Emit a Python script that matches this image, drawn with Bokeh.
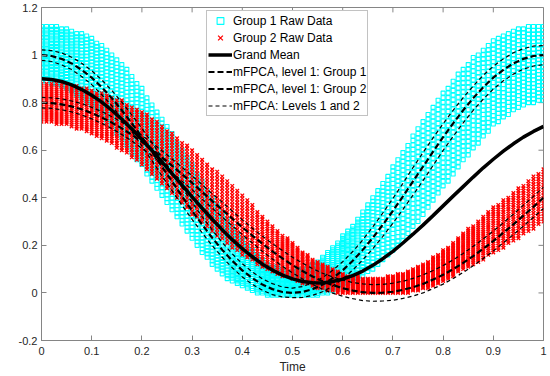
import math
from bokeh.plotting import figure
from bokeh.models import (Range1d, FixedTicker, Legend, LegendItem,
                          Label, PrintfTickFormatter)
from bokeh.embed import file_html
from bokeh.resources import INLINE

# ---------------- data ----------------
x_ticks = [0, 0.1, 0.2, 0.3, 0.4, 0.5, 0.6, 0.7, 0.8, 0.9, 1]
x_tick_labels = ["0", "0.1", "0.2", "0.3", "0.4", "0.5", "0.6", "0.7", "0.8", "0.9", "1"]
y_ticks = [-0.2, 0, 0.2, 0.4, 0.6, 0.8, 1, 1.2]
y_tick_labels = ["-0.2", "0", "0.2", "0.4", "0.6", "0.8", "1", "1.2"]

# sampling times of the raw curves (every 0.01)
t_raw = [round(0.01 * i, 2) for i in range(101)]
# relative positions of the stacked samples inside each column
sample_frac = [0.00, 0.05, 0.10, 0.15, 0.20, 0.25, 0.30, 0.35, 0.40, 0.45, 0.50,
               0.55, 0.60, 0.65, 0.70, 0.75, 0.80, 0.85, 0.90, 0.95, 1.00]

g1_low = [0.89, 0.89, 0.88, 0.88, 0.87, 0.86, 0.85, 0.83, 0.82, 0.80,
          0.79, 0.77, 0.75, 0.72, 0.70, 0.67, 0.65, 0.62, 0.59, 0.56,
          0.54, 0.50, 0.47, 0.44, 0.41, 0.38, 0.35, 0.32, 0.29, 0.26,
          0.23, 0.20, 0.17, 0.15, 0.12, 0.10, 0.08, 0.06, 0.05, 0.04,
          0.03, 0.02, 0.01, 0.00, 0.00, -0.01, -0.01, -0.01, -0.01, -0.01,
          -0.01, -0.01, -0.01, -0.01, -0.01, -0.01, 0.00, 0.00, 0.01, 0.02,
          0.03, 0.04, 0.05, 0.06, 0.07, 0.09, 0.10, 0.12, 0.14, 0.16,
          0.18, 0.20, 0.22, 0.25, 0.28, 0.30, 0.33, 0.36, 0.39, 0.42,
          0.45, 0.47, 0.50, 0.53, 0.56, 0.58, 0.61, 0.63, 0.66, 0.68,
          0.71, 0.72, 0.74, 0.75, 0.77, 0.78, 0.79, 0.80, 0.80, 0.81,
          0.81]
g1_high = [1.12, 1.12, 1.12, 1.12, 1.11, 1.11, 1.10, 1.09, 1.09, 1.08,
           1.07, 1.05, 1.04, 1.02, 1.00, 0.98, 0.96, 0.94, 0.91, 0.88,
           0.86, 0.82, 0.79, 0.76, 0.73, 0.70, 0.67, 0.63, 0.60, 0.57,
           0.54, 0.50, 0.47, 0.43, 0.40, 0.37, 0.34, 0.31, 0.28, 0.25,
           0.23, 0.20, 0.18, 0.16, 0.14, 0.12, 0.11, 0.11, 0.10, 0.09,
           0.09, 0.10, 0.10, 0.11, 0.12, 0.13, 0.15, 0.17, 0.19, 0.21,
           0.24, 0.26, 0.28, 0.31, 0.34, 0.37, 0.40, 0.43, 0.46, 0.49,
           0.53, 0.56, 0.59, 0.62, 0.66, 0.69, 0.72, 0.75, 0.78, 0.81,
           0.84, 0.86, 0.89, 0.92, 0.94, 0.96, 0.99, 1.00, 1.02, 1.04,
           1.06, 1.07, 1.08, 1.09, 1.10, 1.11, 1.11, 1.12, 1.12, 1.12,
           1.12]
g2_low = [0.72, 0.72, 0.72, 0.71, 0.71, 0.71, 0.70, 0.69, 0.69, 0.68,
          0.67, 0.66, 0.65, 0.64, 0.63, 0.61, 0.60, 0.59, 0.57, 0.56,
          0.54, 0.52, 0.50, 0.48, 0.46, 0.44, 0.42, 0.40, 0.38, 0.36,
          0.33, 0.32, 0.30, 0.28, 0.26, 0.24, 0.23, 0.21, 0.19, 0.18,
          0.16, 0.15, 0.14, 0.12, 0.11, 0.10, 0.09, 0.08, 0.07, 0.07,
          0.06, 0.05, 0.04, 0.04, 0.03, 0.02, 0.02, 0.01, 0.01, 0.00,
          0.00, 0.00, 0.00, 0.00, 0.00, 0.00, 0.00, 0.00, 0.00, 0.00,
          0.00, 0.00, 0.00, 0.00, 0.01, 0.01, 0.02, 0.02, 0.03, 0.04,
          0.05, 0.06, 0.07, 0.09, 0.10, 0.11, 0.12, 0.13, 0.14, 0.16,
          0.17, 0.18, 0.19, 0.21, 0.22, 0.23, 0.25, 0.26, 0.27, 0.29,
          0.30]
g2_high = [0.88, 0.88, 0.88, 0.88, 0.88, 0.87, 0.87, 0.87, 0.86, 0.86,
           0.85, 0.84, 0.84, 0.83, 0.82, 0.81, 0.81, 0.79, 0.78, 0.77,
           0.76, 0.75, 0.73, 0.72, 0.70, 0.68, 0.67, 0.65, 0.63, 0.62,
           0.60, 0.58, 0.56, 0.54, 0.52, 0.51, 0.49, 0.47, 0.45, 0.43,
           0.41, 0.39, 0.37, 0.34, 0.32, 0.30, 0.28, 0.26, 0.24, 0.23,
           0.21, 0.19, 0.17, 0.16, 0.14, 0.13, 0.12, 0.11, 0.10, 0.09,
           0.08, 0.07, 0.07, 0.07, 0.06, 0.06, 0.06, 0.06, 0.06, 0.07,
           0.07, 0.08, 0.08, 0.09, 0.10, 0.11, 0.12, 0.13, 0.15, 0.16,
           0.18, 0.19, 0.21, 0.23, 0.25, 0.27, 0.28, 0.30, 0.32, 0.34,
           0.36, 0.37, 0.39, 0.40, 0.42, 0.44, 0.45, 0.47, 0.49, 0.50,
           0.52]

# fitted curves (every 0.02)
t_line = [round(0.02 * i, 2) for i in range(51)]
grand_mean = [0.900, 0.897, 0.889, 0.875, 0.855, 0.831, 0.802, 0.768, 0.730, 0.689,
              0.645, 0.599, 0.551, 0.502, 0.453, 0.404, 0.356, 0.310, 0.266, 0.224,
              0.186, 0.152, 0.121, 0.096, 0.075, 0.059, 0.048, 0.043, 0.042, 0.048,
              0.058, 0.073, 0.092, 0.116, 0.144, 0.175, 0.210, 0.247, 0.285, 0.325,
              0.366, 0.407, 0.447, 0.487, 0.526, 0.562, 0.596, 0.627, 0.655, 0.679,
              0.700]
g1_level1 = [1.000, 0.996, 0.984, 0.965, 0.938, 0.905, 0.865, 0.819, 0.768, 0.713,
             0.655, 0.594, 0.531, 0.469, 0.406, 0.345, 0.287, 0.232, 0.181, 0.135,
             0.095, 0.062, 0.035, 0.016, 0.004, 0.000, 0.004, 0.016, 0.035, 0.062,
             0.095, 0.135, 0.181, 0.232, 0.287, 0.345, 0.406, 0.469, 0.531, 0.594,
             0.655, 0.713, 0.768, 0.819, 0.865, 0.905, 0.938, 0.965, 0.984, 0.996,
             1.000]
g2_level1 = [0.800, 0.798, 0.793, 0.784, 0.772, 0.756, 0.738, 0.716, 0.692, 0.665,
             0.635, 0.604, 0.570, 0.535, 0.499, 0.463, 0.425, 0.387, 0.350, 0.313,
             0.276, 0.241, 0.207, 0.175, 0.145, 0.117, 0.092, 0.069, 0.049, 0.033,
             0.020, 0.010, 0.003, 0.000, 0.001, 0.005, 0.013, 0.024, 0.038, 0.056,
             0.076, 0.100, 0.126, 0.155, 0.186, 0.218, 0.253, 0.288, 0.325, 0.362,
             0.400]
g1_upper = [1.022, 1.019, 1.009, 0.991, 0.966, 0.934, 0.896, 0.851, 0.802, 0.748,
            0.692, 0.632, 0.570, 0.508, 0.444, 0.381, 0.321, 0.265, 0.212, 0.164,
            0.123, 0.088, 0.059, 0.039, 0.025, 0.020, 0.027, 0.042, 0.065, 0.095,
            0.131, 0.174, 0.223, 0.278, 0.336, 0.397, 0.461, 0.527, 0.590, 0.652,
            0.711, 0.768, 0.821, 0.870, 0.915, 0.953, 0.984, 1.010, 1.027, 1.038,
            1.040]
g1_lower = [0.978, 0.973, 0.959, 0.939, 0.910, 0.876, 0.834, 0.787, 0.734, 0.678,
            0.618, 0.556, 0.492, 0.430, 0.368, 0.309, 0.253, 0.199, 0.150, 0.106,
            0.067, 0.036, 0.011, -0.007, -0.017, -0.020, -0.019, -0.010, 0.005, 0.029,
            0.059, 0.096, 0.139, 0.186, 0.238, 0.293, 0.351, 0.411, 0.472, 0.536,
            0.599, 0.658, 0.715, 0.768, 0.815, 0.857, 0.892, 0.920, 0.941, 0.954,
            0.960]
g2_upper = [0.822, 0.820, 0.816, 0.807, 0.796, 0.780, 0.763, 0.741, 0.718, 0.691,
            0.662, 0.631, 0.598, 0.563, 0.528, 0.492, 0.455, 0.417, 0.381, 0.344,
            0.307, 0.272, 0.239, 0.207, 0.178, 0.150, 0.125, 0.102, 0.083, 0.067,
            0.054, 0.044, 0.038, 0.035, 0.036, 0.041, 0.049, 0.061, 0.076, 0.094,
            0.115, 0.139, 0.166, 0.196, 0.227, 0.260, 0.295, 0.331, 0.369, 0.406,
            0.445]
g2_lower = [0.778, 0.776, 0.770, 0.761, 0.748, 0.732, 0.713, 0.691, 0.666, 0.639,
            0.608, 0.577, 0.542, 0.507, 0.470, 0.434, 0.395, 0.357, 0.319, 0.282,
            0.245, 0.210, 0.175, 0.143, 0.112, 0.084, 0.059, 0.036, 0.015, -0.001,
            -0.014, -0.024, -0.032, -0.035, -0.034, -0.031, -0.023, -0.013, 0.000, 0.018,
            0.037, 0.061, 0.086, 0.114, 0.145, 0.176, 0.211, 0.245, 0.281, 0.318,
            0.355]

legend_labels = ["Group 1 Raw Data", "Group 2 Raw Data", "Grand Mean",
                 "mFPCA, level 1: Group 1", "mFPCA, level 1: Group 2",
                 "mFPCA: Levels 1 and 2"]

# ---------------- build raw point clouds ----------------
def column_points(lows, highs):
    xs, ys = [], []
    for t, lo, hi in zip(t_raw, lows, highs):
        for f in sample_frac:
            xs.append(t)
            ys.append(lo + f * (hi - lo))
    return xs, ys

g1_x, g1_y = column_points(g1_low, g1_high)
g2_x, g2_y = column_points(g2_low, g2_high)

# ---------------- figure ----------------
FONT = "Liberation Sans"
AX = "#858585"
TXT = "#262626"
X0, X1 = 0, 1
Y0, Y1 = -0.2, 1.2

p = figure(width=550, height=376, x_range=Range1d(X0, X1), y_range=Range1d(Y0, Y1),
           output_backend="svg", toolbar_location=None,
           min_border_left=41, min_border_right=7, min_border_top=7, min_border_bottom=35)
p.xgrid.visible = False
p.ygrid.visible = False
p.outline_line_color = AX
p.background_fill_color = "white"
p.border_fill_color = "white"

def style_axis(ax, ticks, labels):
    ax.ticker = FixedTicker(ticks=ticks)
    ax.formatter = PrintfTickFormatter(format="%g")
    ax.major_label_overrides = dict(zip(ticks, labels))
    ax.major_tick_in = 5
    ax.major_tick_out = 0
    ax.minor_tick_line_color = None
    ax.axis_line_color = AX
    ax.major_tick_line_color = AX
    ax.major_label_text_font = FONT
    ax.major_label_text_color = TXT
    ax.major_label_text_font_size = "11px"

style_axis(p.xaxis[0], x_ticks, x_tick_labels)
style_axis(p.yaxis[0], y_ticks, y_tick_labels)
p.xaxis[0].major_label_standoff = 6
p.yaxis[0].major_label_standoff = 4
p.xaxis[0].axis_label = "Time"
p.xaxis[0].axis_label_standoff = 2
p.xaxis[0].axis_label_text_font = FONT
p.xaxis[0].axis_label_text_font_size = "12px"
p.xaxis[0].axis_label_text_font_style = "normal"
p.xaxis[0].axis_label_text_color = TXT

# box ticks on the top and right edges (MATLAB "box on")
tick_len_y = 0.0205   # ~5 px in y data units
tick_len_x = 0.0100   # ~5 px in x data units
p.segment(x0=x_ticks, y0=[Y1] * len(x_ticks), x1=x_ticks, y1=[Y1 - tick_len_y] * len(x_ticks),
          line_color=AX, line_width=1)
p.segment(x0=[X1] * len(y_ticks), y0=y_ticks, x1=[X1 - tick_len_x] * len(y_ticks), y1=y_ticks,
          line_color=AX, line_width=1)

p.add_layout(Label(x=-0.058, y=0.5, text="Y", angle=math.pi / 2,
                   text_align="center", text_baseline="middle",
                   text_font=FONT, text_font_size="12px", text_color=TXT))

# ---------------- glyphs ----------------
r_g1 = p.scatter(g1_x, g1_y, marker="square", size=4, fill_color=None,
                 line_color="#00FFFF", line_width=1.1)
r_g2 = p.scatter(g2_x, g2_y, marker="x", size=5, line_color="#FF0000", line_width=1.3)
r_gm = p.line(t_line, grand_mean, line_color="black", line_width=3.5)
r_l1 = p.line(t_line, g1_level1, line_color="black", line_width=2.2, line_dash="6 3")
r_l2 = p.line(t_line, g2_level1, line_color="black", line_width=2.2, line_dash="6 3")
r_u1 = p.line(t_line, g1_upper, line_color="black", line_width=1.2, line_dash="4 3")
p.line(t_line, g1_lower, line_color="black", line_width=1.2, line_dash="4 3")
p.line(t_line, g2_upper, line_color="black", line_width=1.2, line_dash="4 3")
p.line(t_line, g2_lower, line_color="black", line_width=1.2, line_dash="4 3")

renderers = [r_g1, r_g2, r_gm, r_l1, r_l2, r_u1]
legend = Legend(items=[LegendItem(label=lab, renderers=[r])
                       for lab, r in zip(legend_labels, renderers)],
                location=(165, 224))
legend.glyph_width = 24
legend.glyph_height = 17
legend.label_height = 17
legend.spacing = 0
legend.padding = 1
legend.margin = 0
legend.label_standoff = 1
legend.border_line_color = AX
legend.background_fill_color = "white"
legend.background_fill_alpha = 1
legend.label_text_font = FONT
legend.label_text_font_size = "12px"
legend.label_text_color = "black"
p.add_layout(legend)

open("out.html", "w").write(file_html(p, INLINE))
